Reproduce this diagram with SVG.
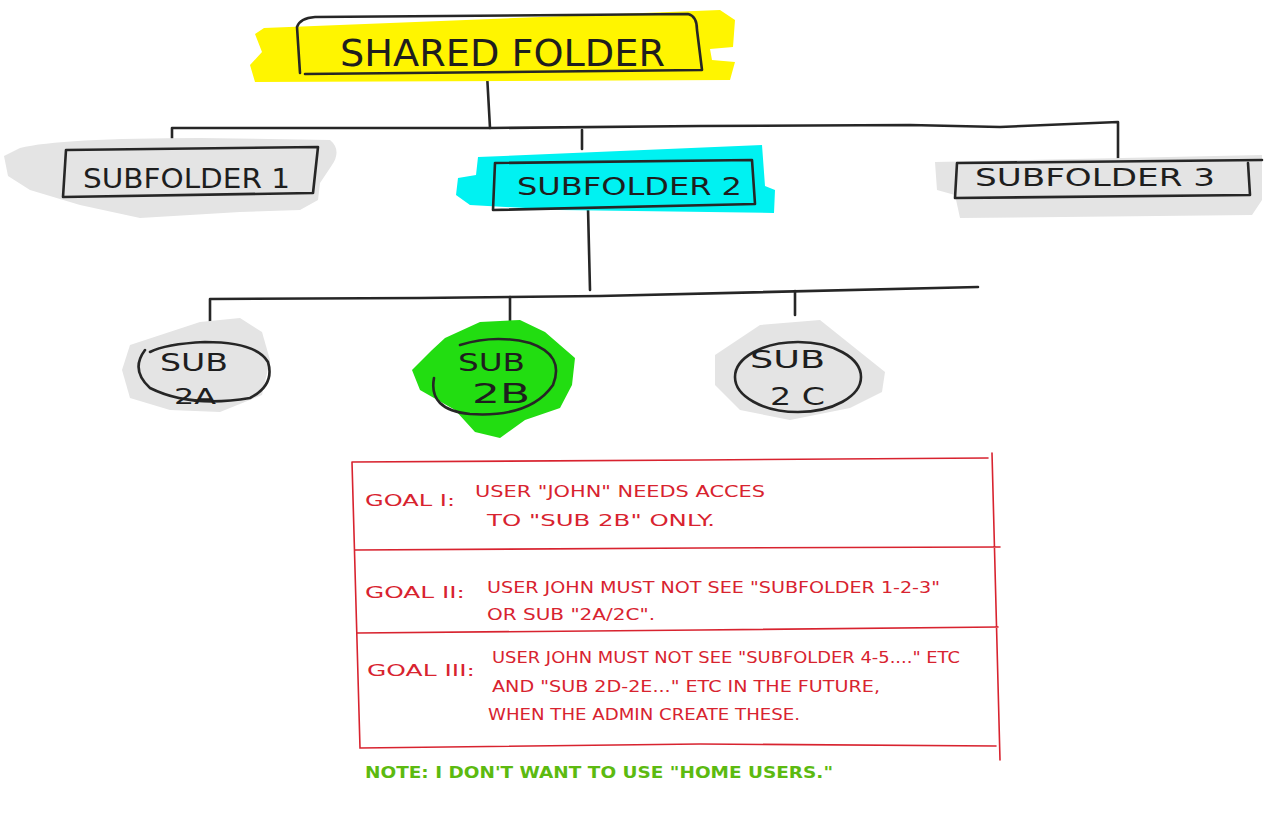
<svg xmlns="http://www.w3.org/2000/svg" width="1280" height="817" viewBox="0 0 1280 817">
<defs>
<style>
.ink{fill:none;stroke:#262626;stroke-width:2.6;stroke-linecap:round;stroke-linejoin:round}
.red{fill:none;stroke:#d8232f;stroke-width:1.6;stroke-linecap:round}
.lbl{font-family:"DejaVu Sans","Liberation Sans",sans-serif;fill:#1e1e1e;font-weight:normal}
.rt{font-family:"DejaVu Sans","Liberation Sans",sans-serif;fill:#d8232f;font-size:15px}
.gt{font-family:"DejaVu Sans","Liberation Sans",sans-serif;fill:#5cba10;font-size:16px;font-weight:bold}
.grey{fill:#e4e4e4}
</style>
</defs>
<rect width="1280" height="817" fill="#ffffff"/>

<g id="connectors">
<path class="ink" d="M487 74 L490 128"/>
<path class="ink" d="M172 157 L172 128 L490 128 L700 126 L910 125 L1000 127 L1118 122 L1118 162"/>
<path class="ink" d="M582 130 L582 149"/>
<path class="ink" d="M588 208 L590 290"/>
<path class="ink" d="M210 346 L210 299 L420 298 L600 296 L978 287"/>
<path class="ink" d="M510 297 L510 330"/>
<path class="ink" d="M795 291 L795 315"/>
</g>

<g id="shared-folder">
<path fill="#fff500" d="M264 28 L720 10 L735 20 L733 47 L710 49 L712 60 L735 62 L730 80 L255 82 L250 65 L262 52 L255 34 Z"/>
<path class="ink" d="M300 73 L297 27 Q300 18 315 17 L688 14 Q697 16 697 30 L702 70 L305 74"/>
<text class="lbl" x="340" y="66" font-size="38" textLength="325" lengthAdjust="spacingAndGlyphs">SHARED FOLDER</text>
</g>

<g id="subfolder-1">
<path class="grey" d="M20 148 Q60 138 200 138 L330 140 Q342 150 332 165 L320 183 L318 200 L300 210 L240 212 L140 218 L80 205 L30 190 L8 176 L4 156 Z"/>
<path class="ink" d="M66 150 L318 147 L313 193 L63 197 Z"/>
<text class="lbl" x="83" y="188" font-size="26" textLength="207" lengthAdjust="spacingAndGlyphs">SUBFOLDER 1</text>
</g>

<g id="subfolder-2">
<path fill="#00f2f2" d="M478 157 L762 145 L765 186 L775 190 L774 213 L560 210 L470 205 L456 195 L458 178 L476 175 Z"/>
<path class="ink" d="M495 163 L752 160 L755 204 L493 210 Z"/>
<text class="lbl" x="517" y="195" font-size="25" textLength="225" lengthAdjust="spacingAndGlyphs">SUBFOLDER 2</text>
</g>

<g id="subfolder-3">
<path class="grey" d="M935 162 L1262 155 L1262 200 L1252 215 L960 218 L955 195 L937 190 Z"/>
<path class="ink" d="M958 163 L1262 160 M957 163 L955 198 L1250 195 L1248 163"/>
<text class="lbl" x="975" y="186" font-size="24" textLength="240" lengthAdjust="spacingAndGlyphs">SUBFOLDER 3</text>
</g>

<g id="sub-2a">
<path class="grey" d="M130 345 L200 322 L240 318 L262 332 L270 360 L262 395 L220 412 L170 410 L130 398 L122 370 Z"/>
<path class="ink" d="M145 350 Q130 370 150 388 Q190 408 250 398 Q275 385 268 362 Q256 342 205 342 Q165 344 150 352"/>
<text class="lbl" x="160" y="371" font-size="24" textLength="68" lengthAdjust="spacingAndGlyphs">SUB</text>
<text class="lbl" x="174" y="404" font-size="22" textLength="42" lengthAdjust="spacingAndGlyphs">2A</text>
</g>

<g id="sub-2b">
<path fill="#22dd11" d="M445 338 L480 322 L520 320 L545 332 L575 358 L572 385 L560 408 L525 420 L500 438 L475 432 L455 410 L420 390 L412 370 L432 350 Z"/>
<path class="ink" d="M434 378 Q428 410 470 414 Q530 418 553 385 Q565 355 530 343 Q495 334 460 345"/>
<text class="lbl" x="458" y="371" font-size="24" textLength="67" lengthAdjust="spacingAndGlyphs">SUB</text>
<text class="lbl" x="472" y="403" font-size="26" textLength="58" lengthAdjust="spacingAndGlyphs">2B</text>
</g>

<g id="sub-2c">
<path class="grey" d="M715 355 L760 325 L820 320 L845 340 L885 372 L882 392 L850 408 L790 420 L740 410 L715 385 Z"/>
<ellipse class="ink" cx="798" cy="377" rx="63" ry="35"/>
<text class="lbl" x="750" y="368" font-size="24" textLength="75" lengthAdjust="spacingAndGlyphs">SUB</text>
<text class="lbl" x="770" y="405" font-size="25" textLength="55" lengthAdjust="spacingAndGlyphs">2 C</text>
</g>

<g id="goals">
<path class="red" d="M352 462 L700 460 L988 458 M992 453 L1000 760 M352 462 L360 748 L700 744 L996 746 M355 550 L700 548 L1000 547 M357 633 L700 630 L998 627"/>
<text class="rt" x="365" y="506" textLength="90" lengthAdjust="spacingAndGlyphs">GOAL I:</text>
<text class="rt" x="475" y="497" textLength="290" lengthAdjust="spacingAndGlyphs">USER "JOHN" NEEDS ACCES</text>
<text class="rt" x="487" y="526" textLength="228" lengthAdjust="spacingAndGlyphs">TO "SUB 2B" ONLY.</text>
<text class="rt" x="365" y="598" textLength="100" lengthAdjust="spacingAndGlyphs">GOAL II:</text>
<text class="rt" x="487" y="593" textLength="453" lengthAdjust="spacingAndGlyphs">USER JOHN MUST NOT SEE "SUBFOLDER 1-2-3"</text>
<text class="rt" x="487" y="620" textLength="168" lengthAdjust="spacingAndGlyphs">OR SUB "2A/2C".</text>
<text class="rt" x="367" y="676" textLength="108" lengthAdjust="spacingAndGlyphs">GOAL III:</text>
<text class="rt" x="492" y="663" textLength="468" lengthAdjust="spacingAndGlyphs">USER JOHN MUST NOT SEE "SUBFOLDER 4-5...." ETC</text>
<text class="rt" x="492" y="692" textLength="388" lengthAdjust="spacingAndGlyphs">AND "SUB 2D-2E..." ETC IN THE FUTURE,</text>
<text class="rt" x="488" y="720" textLength="312" lengthAdjust="spacingAndGlyphs">WHEN THE ADMIN CREATE THESE.</text>
</g>

<g id="note">
<text class="gt" x="365" y="778" textLength="468" lengthAdjust="spacingAndGlyphs">NOTE: I DON'T WANT TO USE "HOME USERS."</text>
</g>
</svg>
